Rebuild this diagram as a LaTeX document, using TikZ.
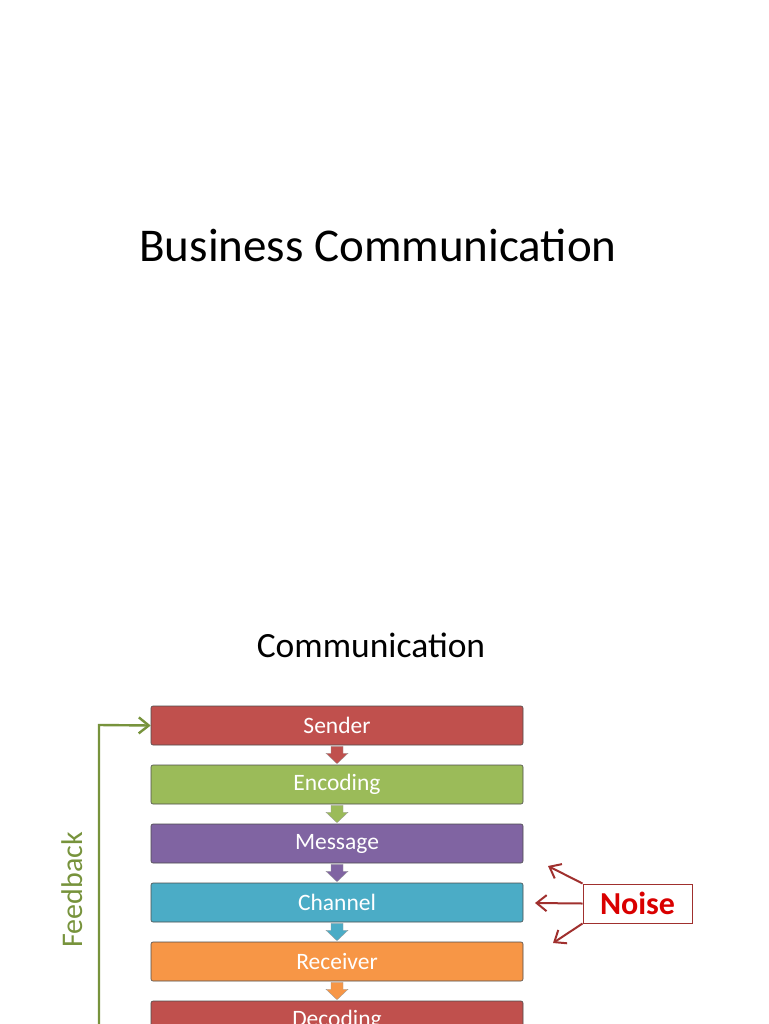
\documentclass[tikz,border=0pt]{standalone}
\usepackage{fontspec}
\setmainfont{Carlito}
\usetikzlibrary{arrows.meta,calc}
\definecolor{cR}{HTML}{C0504D}
\definecolor{cG}{HTML}{9BBB59}
\definecolor{cP}{HTML}{8064A2}
\definecolor{cB}{HTML}{4BACC6}
\definecolor{cO}{HTML}{F79646}
\definecolor{fb}{HTML}{77933C}
\definecolor{nz}{HTML}{A0302E}
\begin{document}
\begin{tikzpicture}[x=1pt,y=-1pt,
  stage/.style={draw=black!70,line width=0.6pt,rounded corners=2pt,minimum width=372pt,minimum height=39pt,inner sep=0pt,text=white,font=\fontsize{23.5}{23.5}\selectfont},
  barb/.style={-{Straight Barb[length=10pt,width=16pt]}}]
\useasboundingbox (0,0) rectangle (768,1024);
\clip (0,0) rectangle (768,1024);
\node[font=\fontsize{47}{47}\selectfont] (title) at (378,245) {Business Communication};
\node[font=\fontsize{35.5}{35.5}\selectfont] (sub) at (371,645) {Communication};
\node[stage,fill=cR] (s1) at (337,725.5) {Sender};
\node[stage,fill=cG] (s2) at (337,784.5) {Encoding};
\node[stage,fill=cP] (s3) at (337,843.5) {Message};
\node[stage,fill=cB] (s4) at (337,902.5) {Channel};
\node[stage,fill=cO] (s5) at (337,961.5) {Receiver};
\node[stage,fill=cR] (s6) at (337,1020.5) {Decoding};
\foreach \a/\b/\c in {s1/s2/cR,s2/s3/cG,s3/s4/cP,s4/s5/cB,s5/s6/cO}{
  \path (\a.south) coordinate (t) (\b.north) coordinate (u);
  \filldraw[fill=\c,draw=black!40,line width=0.3pt] ($(t)+(-6,1)$) -- ($(t)+(6,1)$) -- ($(t)+(6,8)$) -- ($(t)+(11,8)$) -- ($(u)+(0,-1)$) -- ($(t)+(-11,8)$) -- ($(t)+(-6,8)$) -- cycle;
}
\coordinate (fbot) at (99,1030);
\coordinate (fcorner) at (99,725);
\draw[fb,line width=2.4pt,barb] (fbot) -- (fcorner) -- (s1.west);
\node[fb,rotate=90,font=\fontsize{30}{30}\selectfont] (fbl) at (72,890) {Feedback};
\node[draw=nz,line width=1pt,minimum width=109pt,minimum height=39pt,inner sep=0pt,text=red!85!black,font=\bfseries\fontsize{32}{32}\selectfont] (noise) at (637.5,903.5) {Noise};
\coordinate (n1) at (535,903);
\coordinate (n2) at (548,866);
\coordinate (n3) at (553,943);
\draw[nz,line width=2pt,barb] (noise.west) -- (n1);
\draw[nz,line width=2pt,barb] (noise.north west) -- (n2);
\draw[nz,line width=2pt,barb] (noise.south west) -- (n3);
\end{tikzpicture}
\end{document}
